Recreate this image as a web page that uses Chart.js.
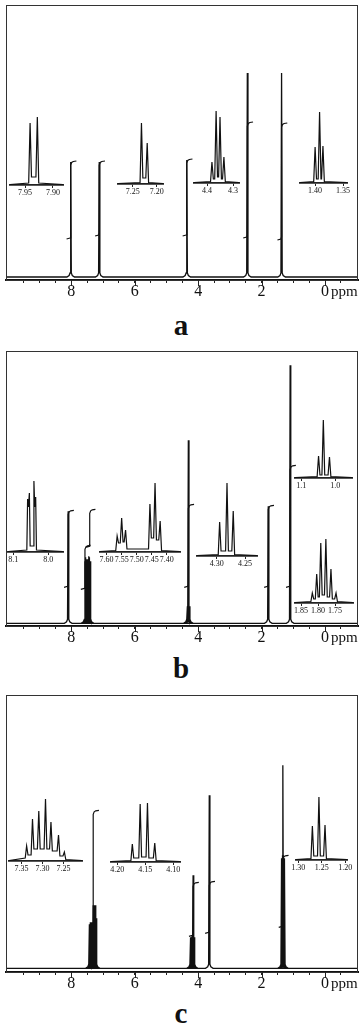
<!DOCTYPE html>
<html>
<head>
<meta charset="utf-8">
<script src="https://cdn.jsdelivr.net/npm/chart.js@4.4.1/dist/chart.umd.min.js"></script>
<style>
  body { margin: 0; background: #fff; }
  #page { position: relative; width: 362px; height: 1027px; overflow: hidden; background: #fff; }
  #page canvas { position: absolute; }
  .tag { position: absolute; left: 161px; width: 40px; text-align: center; font: bold 29px/29px "Liberation Serif", serif; color: #111; }
</style>
</head>
<body>
<div id="page">
  <div class="tag" style="top:311px">a</div>
  <div class="tag" style="top:654px">b</div>
  <div class="tag" style="top:999px">c</div>
</div>
<script>
// shifts in ppm, intensities in plot units
const majorTicks = [8, 6, 4, 2, 0];
const minorTicks = [];
for (let k = 19; k >= -1; k--) minorTicks.push(k / 2);

// spectrum a
const aPeakPpm = [8.02, 7.12, 4.36, 2.45, 1.37];
const aPeakHeight = [115, 115, 117, 204, 204];
const aIntPpm = [8.02, 7.12, 4.36, 2.45, 1.37];
const aIntLow = [39, 42, 42, 40, 38];
const aIntHigh = [115, 115, 117, 154, 153];

// spectrum b
const bPeakPpm = [8.10, 7.57, 7.55, 7.53, 7.51, 7.49, 7.47, 7.45, 7.43, 7.41, 4.34, 4.32, 4.31, 4.30, 4.28, 1.79, 1.10];
const bPeakHeight = [112, 62, 66, 64, 60, 58, 64, 67, 66, 62, 17, 17, 183, 17, 17, 117, 258];
const bIntPpm = [8.10, 7.57, 7.42, 4.31, 1.79, 1.10];
const bIntLow = [37, 35, 77, 37, 37, 37];
const bIntHigh = [112, 77, 113, 118, 117, 157];

// spectrum c
const cPeakPpm = [7.43, 7.40, 7.37, 7.34, 7.31, 7.28, 7.25, 7.22, 4.24, 4.20, 4.16, 4.13, 3.65, 1.37, 1.34, 1.33, 1.31, 1.28];
const cPeakHeight = [44, 46, 46, 46, 63, 63, 63, 50, 31, 32, 93, 31, 173, 110, 113, 203, 113, 110];
const cIntPpm = [7.31, 4.16, 3.65, 1.33];
const cIntLow = [36, 33, 36, 42];
const cIntHigh = [157, 85, 86, 112];

// expanded multiplets: tick labels, line positions, heights, dips between lines
const a1Ticks = ['7.95', '7.90'];
const a1Ppm = [7.941, 7.928];
const a1Height = [62, 68];
const a1Dip = [2, 8, 2];
const a2Ticks = ['7.25', '7.20'];
const a2Ppm = [7.232, 7.220];
const a2Height = [61, 41];
const a2Dip = [1.5, 6, 1.5];
const a3Ticks = ['4.4', '4.3'];
const a3Ppm = [4.381, 4.365, 4.350, 4.335];
const a3Height = [21, 72, 66, 26];
const a3Dip = [1.5, 4, 6, 4, 1.5];
const a4Ticks = ['1.40', '1.35'];
const a4Ppm = [1.400, 1.392, 1.386];
const a4Height = [36, 71, 37];
const a4Dip = [1.5, 4, 4, 1.5];

const b1Ticks = ['8.1', '8.0'];
const b1Ppm = [8.059, 8.054, 8.041, 8.036];
const b1Height = [53, 59, 71, 55];
const b1Dip = [2, 45, 6, 45, 2];
const b2Ticks = ['7.60', '7.55', '7.50', '7.45', '7.40'];
const b2Ppm = [7.565, 7.550, 7.537, 7.456, 7.439, 7.422];
const b2Height = [16, 34, 22, 48, 69, 31];
const b2Dip = [1.5, 9, 10, 3, 14, 12, 1.5];
const b3Ticks = ['4.30', '4.25'];
const b3Ppm = [4.295, 4.282, 4.271];
const b3Height = [34, 73, 45];
const b3Dip = [1.5, 5, 5, 1.5];
const b4Ticks = ['1.1', '1.0'];
const b4Ppm = [1.049, 1.035, 1.017];
const b4Height = [22, 58, 21];
const b4Dip = [1.5, 3, 3, 1.5];
const b5Ticks = ['1.85', '1.80', '1.75'];
const b5Ppm = [1.817, 1.804, 1.792, 1.777, 1.762, 1.747];
const b5Height = [10, 29, 60, 64, 34, 10];
const b5Dip = [1.5, 4, 6, 8, 6, 4, 1.5];

const c1Ticks = ['7.35', '7.30', '7.25'];
const c1Ppm = [7.338, 7.324, 7.309, 7.293, 7.280, 7.262, 7.248];
const c1Height = [15, 42, 50, 62, 39, 26, 9];
const c1Dip = [3, 6, 12, 12, 12, 10, 5, 1.5];
const c2Ticks = ['4.20', '4.15', '4.10'];
const c2Ppm = [4.173, 4.159, 4.146, 4.133];
const c2Height = [18, 58, 59, 19];
const c2Dip = [1.5, 4, 5, 4, 1.5];
const c3Ticks = ['1.30', '1.25', '1.20'];
const c3Ppm = [1.270, 1.256, 1.243];
const c3Height = [34, 63, 35];
const c3Dip = [1.5, 4, 4, 1.5];

const page = document.getElementById('page');
const ink = '#111';

function addCanvas(left, top, w, h) {
  const cv = document.createElement('canvas');
  cv.width = w;
  cv.height = h;
  cv.style.left = left + 'px';
  cv.style.top = top + 'px';
  cv.style.width = w + 'px';
  cv.style.height = h + 'px';
  page.appendChild(cv);
  return cv;
}

const framePlugin = {
  id: 'frame',
  afterDraw(chart) {
    const a = chart.chartArea, ctx = chart.ctx, x = chart.scales.x;
    ctx.save();
    ctx.strokeStyle = '#333';
    ctx.lineWidth = 1;
    ctx.strokeRect(a.left + 0.5, a.top + 0.5, a.right - a.left - 1, a.bottom - a.top);
    // longer marks at the labelled shifts
    ctx.strokeStyle = '#222';
    majorTicks.forEach(v => {
      const px = Math.round(x.getPixelForValue(v)) + 0.5;
      ctx.beginPath();
      ctx.moveTo(px, a.bottom);
      ctx.lineTo(px, a.bottom + 6);
      ctx.stroke();
    });
    ctx.fillStyle = ink;
    ctx.font = '15px "Liberation Serif", serif';
    ctx.textBaseline = 'top';
    ctx.fillText('ppm', x.getPixelForValue(0) + 6, a.bottom + 5);
    ctx.restore();
  }
};

function mainChart(top, padTop, areaH, yMin, peakPpm, peakH, intPpm, intLow, intHigh) {
  const cv = addCanvas(0, top, 362, padTop + areaH + 25);
  const spec = [{x: 10.06, y: 0}];
  peakPpm.forEach((p, i) => {
    spec.push({x: p + 0.12, y: 0}, {x: p + 0.05, y: 1.5}, {x: p + 0.02, y: 4}, {x: p, y: peakH[i]},
      {x: p - 0.02, y: 4}, {x: p - 0.05, y: 1.5}, {x: p - 0.12, y: 0});
  });
  spec.push({x: -1.04, y: 0});
  const integ = [];
  intPpm.forEach((p, i) => {
    const lo = intLow[i], hi = intHigh[i];
    integ.push({x: p + 0.13, y: lo - 1}, {x: p + 0.02, y: lo}, {x: p, y: lo + 2},
      {x: p, y: hi - 3}, {x: p - 0.03, y: hi - 0.5}, {x: p - 0.08, y: hi + 0.5},
      {x: p - 0.18, y: hi + 1}, {x: p - 0.19, y: null});
  });
  new Chart(cv, {
    type: 'line',
    data: {
      datasets: [
        {data: spec, borderColor: ink, borderWidth: 1.3, pointRadius: 0, tension: 0},
        {data: integ, borderColor: ink, borderWidth: 1.2, pointRadius: 0, tension: 0, spanGaps: false}
      ]
    },
    options: {
      responsive: false,
      animation: false,
      devicePixelRatio: 1,
      layout: {padding: {left: 6, right: 4, top: padTop, bottom: 0}},
      plugins: {legend: {display: false}, tooltip: {enabled: false}},
      scales: {
        x: {
          type: 'linear', reverse: true, min: -1.04, max: 10.06,
          afterBuildTicks: s => { s.ticks = minorTicks.map(v => ({value: v})); },
          afterFit: s => { s.height = 25; },
          grid: {drawOnChartArea: false, tickLength: 3, color: '#222', lineWidth: 1},
          border: {color: ink, width: 2},
          ticks: {
            autoSkip: false, maxRotation: 0, padding: -1, color: ink,
            font: {family: 'Liberation Serif', size: 16},
            callback: v => majorTicks.includes(v) ? String(v) : ''
          }
        },
        y: {display: false, min: yMin, max: yMin + areaH}
      }
    },
    plugins: [framePlugin]
  });
}

function inset(left, right, baseY, plotH, ppmL, ppmR, tickLabels, ppm, h, dips) {
  const m = 12, axisH = 16;
  const cv = addCanvas(left - m, baseY - plotH, right - left + 2 * m, plotH + axisH);
  const perPx = (ppmL - ppmR) / (right - left);
  const pts = [{x: ppmL, y: 0.5}];
  ppm.forEach((p, i) => {
    let gap = 99;
    if (i > 0) gap = Math.min(gap, ppm[i - 1] - p);
    if (i < ppm.length - 1) gap = Math.min(gap, p - ppm[i + 1]);
    const w = Math.min(1.4 * perPx, 0.45 * gap);
    pts.push({x: p + w, y: dips[i]}, {x: p, y: h[i]}, {x: p - w, y: dips[i + 1]});
  });
  pts.push({x: ppmR, y: 0.5});
  new Chart(cv, {
    type: 'line',
    data: {datasets: [{data: pts, borderColor: ink, borderWidth: 1.2, pointRadius: 0, tension: 0}]},
    options: {
      responsive: false,
      animation: false,
      devicePixelRatio: 1,
      layout: {padding: {left: m, right: m, top: 0, bottom: 0}},
      plugins: {legend: {display: false}, tooltip: {enabled: false}},
      scales: {
        x: {
          type: 'linear', reverse: true, min: ppmR, max: ppmL,
          afterBuildTicks: s => { s.ticks = tickLabels.map(t => ({value: parseFloat(t)})); },
          afterFit: s => { s.height = axisH; },
          grid: {drawOnChartArea: false, tickLength: 3, color: '#222', lineWidth: 1},
          border: {color: '#222', width: 1.8},
          ticks: {
            autoSkip: false, maxRotation: 0, padding: 0, color: ink,
            font: {family: 'Liberation Serif', size: 8},
            callback: (v, i) => tickLabels[i]
          }
        },
        y: {display: false, min: 0, max: plotH}
      }
    }
  });
}

mainChart(0, 5, 275, -3, aPeakPpm, aPeakHeight, aIntPpm, aIntLow, aIntHigh);
mainChart(345, 6, 275, -2.7, bPeakPpm, bPeakHeight, bIntPpm, bIntLow, bIntHigh);
mainChart(690, 5, 277, -3.7, cPeakPpm, cPeakHeight, cIntPpm, cIntLow, cIntHigh);

inset(10, 63, 184.5, 74, 7.977, 7.882, a1Ticks, a1Ppm, a1Height, a1Dip);
inset(118, 163, 184, 70, 7.281, 7.187, a2Ticks, a2Ppm, a2Height, a2Dip);
inset(194, 239, 183, 78, 4.45, 4.277, a3Ticks, a3Ppm, a3Height, a3Dip);
inset(300, 347, 183, 76, 1.427, 1.343, a4Ticks, a4Ppm, a4Height, a4Dip);

inset(8, 63, 552, 76, 8.115, 7.958, b1Ticks, b1Ppm, b1Height, b1Dip);
inset(100, 180, 552, 74, 7.622, 7.356, b2Ticks, b2Ppm, b2Height, b2Dip);
inset(197, 257, 556, 76, 4.335, 4.229, b3Ticks, b3Ppm, b3Height, b3Dip);
inset(295, 352, 478, 62, 1.118, 0.951, b4Ticks, b4Ppm, b4Height, b4Dip);
inset(295, 353, 603, 68, 1.868, 1.697, b5Ticks, b5Ppm, b5Height, b5Dip);

inset(9, 82, 861, 70, 7.380, 7.206, c1Ticks, c1Ppm, c1Height, c1Dip);
inset(111, 180, 862, 64, 4.211, 4.088, c2Ticks, c2Ppm, c2Height, c2Dip);
inset(296, 347, 860, 68, 1.305, 1.196, c3Ticks, c3Ppm, c3Height, c3Dip);
</script>
</body>
</html>
